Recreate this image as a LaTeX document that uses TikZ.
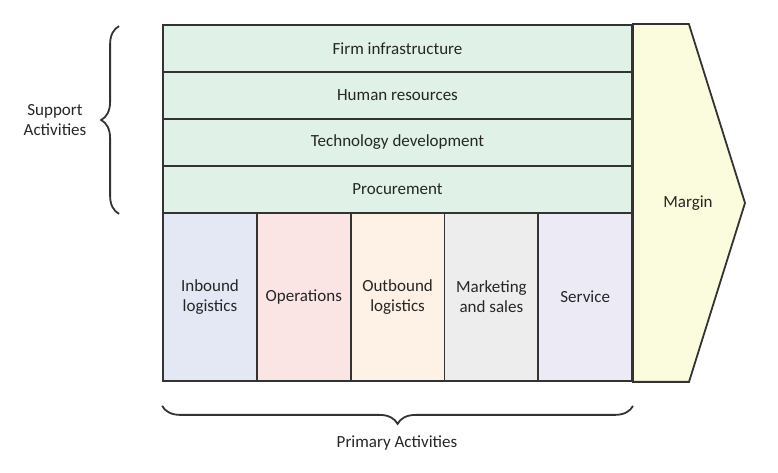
\documentclass[tikz,border=0pt]{standalone}
\usepackage{fontspec}
\setmainfont{Carlito}
\usepackage{tikz}
\usetikzlibrary{shapes.geometric, decorations.pathreplacing}
\definecolor{linegray}{HTML}{333333}
\definecolor{textgray}{HTML}{262626}
\definecolor{suppgreen}{HTML}{E0F1E7}
\definecolor{inblue}{HTML}{E3E8F4}
\definecolor{oppink}{HTML}{FAE4E4}
\definecolor{outpeach}{HTML}{FEF2E6}
\definecolor{mkgray}{HTML}{EDEDED}
\definecolor{svlilac}{HTML}{ECEBF5}
\definecolor{mgyellow}{HTML}{FBFBDD}
\tikzstyle{support} = [rectangle, minimum width=469pt, minimum height=47pt, text centered, draw=linegray, line width=1.8pt, fill=suppgreen]
\tikzstyle{primary} = [rectangle, minimum width=93.8pt, minimum height=168pt, text centered, align=center, draw=linegray, line width=1.8pt]
\tikzstyle{brace} = [decorate, decoration={brace, amplitude=18pt}, line width=1.8pt, draw=linegray]

\begin{document}
\begin{tikzpicture}[node distance=47pt, font=\fontsize{17}{20}\selectfont, text=textgray]
		\useasboundingbox (0,0) rectangle (778pt,473pt);
		\node (fi) [support] at (397.5pt,424.5pt) {Firm infrastructure};
		\node (hr) [support, below of=fi] {Human resources};
		\node (td) [support, below of=hr] {Technology development};
		\node (pr) [support, below of=td] {Procurement};
		\node (ib) [primary, fill=inblue] at (210pt,176pt) {Inbound\\logistics};
		\node (op) [primary, fill=oppink, right of=ib, node distance=93.8pt] {Operations};
		\node (ob) [primary, fill=outpeach, right of=op, node distance=93.8pt] {Outbound\\logistics};
		\node (ms) [primary, fill=mkgray, right of=ob, node distance=93.8pt] {Marketing\\and sales};
		\node (sv) [primary, fill=svlilac, right of=ms, node distance=93.8pt] {Service};
		\draw [fill=mgyellow, draw=linegray, line width=1.8pt, line join=miter] (fi.north east) -- ++(56pt,0) -- (745pt,270pt) -- ([xshift=56pt]sv.south east) -- (sv.south east) -- cycle;
		\node (mg) at (688pt,270pt) {Margin};
		\draw [brace] ([xshift=-43pt]pr.south west) -- ([xshift=-43pt,yshift=-2pt]fi.north west);
		\node (sa) [align=center] at (55pt,353pt) {Support\\Activities};
		\draw [brace] ([yshift=-24pt]sv.south east) -- ([yshift=-24pt]ib.south west);
		\node (pa) at (397pt,30pt) {Primary Activities};
		\end{tikzpicture}
\end{document}
